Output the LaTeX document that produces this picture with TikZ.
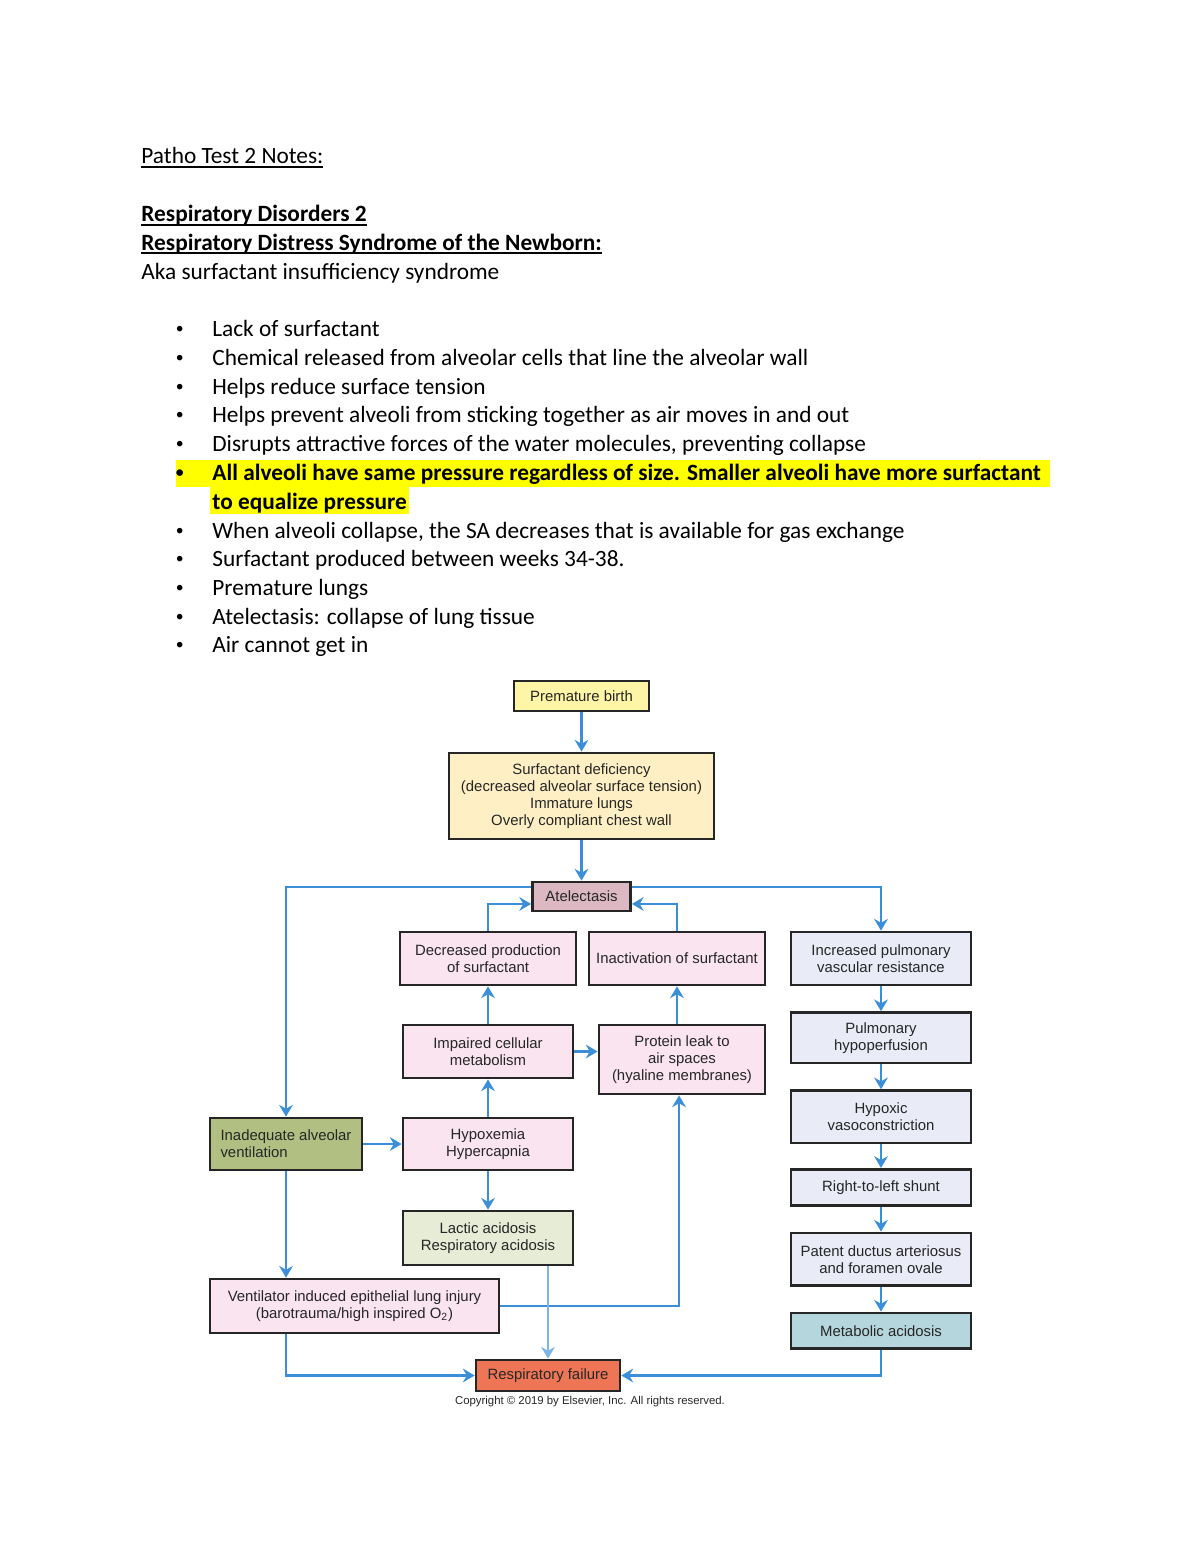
\documentclass[tikz,border=0pt]{standalone}
\usepackage{fontspec}
\setmainfont{Carlito}
\newfontfamily\diagfont{Liberation Sans}
\usetikzlibrary{positioning,arrows.meta}

\definecolor{arrblue}{HTML}{3A8FD8}
\definecolor{lightarr}{HTML}{7DB5E6}
\definecolor{hlyellow}{HTML}{FFFF00}
\definecolor{premfill}{HTML}{FFF5A6}
\definecolor{surffill}{HTML}{FEF0C4}
\definecolor{atelfill}{HTML}{DBB8C2}
\definecolor{pinkfill}{HTML}{F9E4EF}
\definecolor{bluefill}{HTML}{E9EBF7}
\definecolor{metabfill}{HTML}{B5D6DD}
\definecolor{greenfill}{HTML}{B2BF82}
\definecolor{lacticfill}{HTML}{E6ECD6}
\definecolor{rffill}{HTML}{EE7656}

\newcommand{\itm}{\llap{\raisebox{1.5pt}{\fontsize{8}{8}\selectfont\textbullet}\hspace{14.6pt}}}
\newsavebox{\undlbox}
\newcommand{\undl}[1]{\sbox{\undlbox}{#1}\rlap{\rule[-1.9pt]{\wd\undlbox}{0.7pt}}\usebox{\undlbox}}

\begin{document}
\begin{tikzpicture}[
x=0.51pt, y=-0.51pt,
txt/.style={anchor=base west, inner sep=0pt, font=\fontsize{11.9}{14.7}\selectfont},
box/.style={draw=black!85, line width=1.4pt, align=center, inner sep=1pt, text=black!85, font=\diagfont\fontsize{7.6}{8.7}\selectfont},
pk/.style={box, fill=pinkfill},
bl/.style={box, fill=bluefill, minimum width=91.8pt},
arr/.style={-{Stealth[length=6pt,width=7pt,inset=2pt]}, draw=arrblue, line width=1.3pt},
thinarr/.style={-{Stealth[length=6pt,width=7pt,inset=2pt]}, draw=lightarr, line width=0.9pt}
]
\useasboundingbox (0,0) rectangle (1200,1553);

% notes
\fill[hlyellow] (176,460) rectangle (1050,487);
\fill[hlyellow] (210,487) rectangle (409,514);
\node[txt] (title) at (141,164) {\undl{Patho Test 2 Notes:}};
\node[txt] (hdra) at (141,222) {\bfseries\undl{Respiratory Disorders 2}};
\node[txt] (hdrb) at (141,250) {\bfseries\undl{Respiratory Distress Syndrome of the Newborn:}};
\node[txt] (aka) at (141,279) {Aka surfactant insufficiency syndrome};

\node[txt] (ita) at (212,336) {\itm Lack of surfactant};
\node[txt] (itb) at (212,365) {\itm Chemical released from alveolar cells that line the alveolar wall};
\node[txt] (itc) at (212,394) {\itm Helps reduce surface tension};
\node[txt] (itd) at (212,422) {\itm Helps prevent alveoli from sticking together as air moves in and out};
\node[txt] (ite) at (212,451) {\itm Disrupts attractive forces of the water molecules, preventing collapse};
\node[txt] (itf) at (212,480) {\bfseries\itm All alveoli have same pressure regardless of size. Smaller alveoli have more surfactant};
\node[txt] (itg) at (212,509) {\bfseries to equalize pressure};
\node[txt] (ith) at (212,538) {\itm When alveoli collapse, the SA decreases that is available for gas exchange};
\node[txt] (iti) at (212,566) {\itm Surfactant produced between weeks 34-38.};
\node[txt] (itj) at (212,595) {\itm Premature lungs};
\node[txt] (itk) at (212,624) {\itm Atelectasis: collapse of lung tissue};
\node[txt] (itl) at (212,652) {\itm Air cannot get in};

% flow chart
\node[box, fill=premfill, minimum width=68.9pt, minimum height=15.3pt] (prem) at (581.5,696) {Premature birth};
\node[box, fill=surffill, minimum width=135.2pt, minimum height=43.9pt] (surf) at (581.5,796) {Surfactant deficiency\\(decreased alveolar surface tension)\\Immature lungs\\Overly compliant chest wall};
\node[box, fill=atelfill, minimum width=50pt, minimum height=14.8pt] (atel) at (581.5,896.5) {Atelectasis};

\node[pk, minimum width=89.8pt, minimum height=27pt] (decp) at (488,958.5) {Decreased production\\of surfactant};
\node[pk, minimum width=89.8pt, minimum height=27pt] (inact) at (677,958.5) {Inactivation of surfactant};
\node[pk, minimum width=86.7pt, minimum height=27pt] (impair) at (488,1051.5) {Impaired cellular\\metabolism};
\node[pk, minimum width=84.7pt, minimum height=35.2pt] (prot) at (682,1059.5) {Protein leak to\\air spaces\\(hyaline membranes)};
\node[pk, minimum width=86.7pt, minimum height=26.5pt] (hypox) at (488,1144) {Hypoxemia\\Hypercapnia};
\node[box, fill=greenfill, align=left, minimum width=77.5pt, minimum height=26.5pt] (inad) at (286,1144) {Inadequate alveolar\\ventilation};
\node[box, fill=lacticfill, minimum width=86.7pt, minimum height=27.5pt] (lactic) at (488,1238) {Lactic acidosis\\Respiratory acidosis};
\node[pk, minimum width=147.4pt, minimum height=27.5pt] (vent) at (354.5,1306) {Ventilator induced epithelial lung injury\\(barotrauma/high inspired O\textsubscript{2})};
\node[box, fill=rffill, minimum width=73.4pt, minimum height=15.8pt] (rf) at (548,1375.5) {Respiratory failure};

\node[bl, minimum height=27pt] (ipvr) at (881,958.5) {Increased pulmonary\\vascular resistance};
\node[bl, minimum height=25.7pt, below=12.7pt of ipvr] (hypop) {Pulmonary\\hypoperfusion};
\node[bl, minimum height=26.7pt, below=12.7pt of hypop] (hypv) {Hypoxic\\vasoconstriction};
\node[bl, minimum height=18.4pt, below=12pt of hypv] (rtl) {Right-to-left shunt};
\node[bl, minimum height=26.7pt, below=12.7pt of rtl] (pda) {Patent ductus arteriosus\\and foramen ovale};
\node[bl, fill=metabfill, minimum height=18pt, below=12.7pt of pda] (metab) {Metabolic acidosis};

\node[font=\diagfont\fontsize{5.8}{6.5}\selectfont, text=black!85, inner sep=0pt] (copy) at (590,1402) {Copyright \textcopyright{} 2019 by Elsevier, Inc. All rights reserved.};

\draw[arr] (prem) -- (surf);
\draw[arr] (surf) -- (atel);
\draw[arr] ([yshift=4.8pt]atel.west) -| (inad);
\draw[arr] ([yshift=4.8pt]atel.east) -| (ipvr);
\draw[arr] (decp) |- ([yshift=-3.8pt]atel.west);
\draw[arr] (inact) |- ([yshift=-3.8pt]atel.east);
\draw[arr] (impair) -- (decp);
\draw[arr] (impair.east) -- (impair.east -| prot.west);
\draw[arr] (prot.north -| inact.south) -- (inact.south);
\draw[arr] (hypox) -- (impair);
\draw[arr] (inad) -- (hypox);
\draw[arr] (hypox) -- (lactic);
\draw[arr] (inad.south) -- (inad.south |- vent.north);
\draw[arr] (vent.east) -| ([xshift=-1.5pt]prot.south);
\draw[thinarr] (lactic.south -| rf.north) -- (rf.north);
\draw[arr] (vent.south -| inad.south) |- (rf.west);
\draw[arr] (metab) |- (rf.east);
\draw[arr] (ipvr) -- (hypop);
\draw[arr] (hypop) -- (hypv);
\draw[arr] (hypv) -- (rtl);
\draw[arr] (rtl) -- (pda);
\draw[arr] (pda) -- (metab);
\end{tikzpicture}
\end{document}
